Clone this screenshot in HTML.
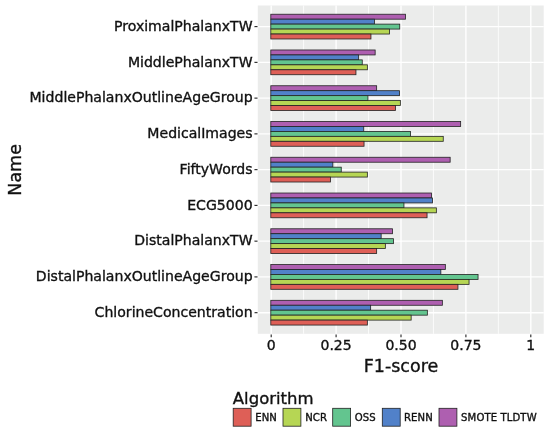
<!DOCTYPE html>
<html><head><meta charset="utf-8"><title>F1-score chart</title>
<style>html,body{margin:0;padding:0;background:#fff}.t{stroke:#111;stroke-width:0.35px}</style></head>
<body>
<svg width="550" height="433" viewBox="0 0 550 433" style="display:block;font-family:'DejaVu Sans','Liberation Sans',sans-serif">
<rect width="550" height="433" fill="#fff"/>
<rect x="257.8" y="5.5" width="285.90000000000003" height="328.30" fill="#ebeceb"/>
<line x1="303.65" x2="303.65" y1="5.5" y2="333.8" stroke="#fdfdfd" stroke-width="0.9"/>
<line x1="368.55" x2="368.55" y1="5.5" y2="333.8" stroke="#fdfdfd" stroke-width="0.9"/>
<line x1="433.45" x2="433.45" y1="5.5" y2="333.8" stroke="#fdfdfd" stroke-width="0.9"/>
<line x1="498.35" x2="498.35" y1="5.5" y2="333.8" stroke="#fdfdfd" stroke-width="0.9"/>
<line x1="271.20" x2="271.20" y1="5.5" y2="333.8" stroke="#fff" stroke-width="1.4"/>
<line x1="336.10" x2="336.10" y1="5.5" y2="333.8" stroke="#fff" stroke-width="1.4"/>
<line x1="401.00" x2="401.00" y1="5.5" y2="333.8" stroke="#fff" stroke-width="1.4"/>
<line x1="465.90" x2="465.90" y1="5.5" y2="333.8" stroke="#fff" stroke-width="1.4"/>
<line x1="530.80" x2="530.80" y1="5.5" y2="333.8" stroke="#fff" stroke-width="1.4"/>
<line x1="257.8" x2="543.7" y1="26.60" y2="26.60" stroke="#fff" stroke-width="1.4"/>
<line x1="257.8" x2="543.7" y1="62.36" y2="62.36" stroke="#fff" stroke-width="1.4"/>
<line x1="257.8" x2="543.7" y1="98.12" y2="98.12" stroke="#fff" stroke-width="1.4"/>
<line x1="257.8" x2="543.7" y1="133.88" y2="133.88" stroke="#fff" stroke-width="1.4"/>
<line x1="257.8" x2="543.7" y1="169.64" y2="169.64" stroke="#fff" stroke-width="1.4"/>
<line x1="257.8" x2="543.7" y1="205.40" y2="205.40" stroke="#fff" stroke-width="1.4"/>
<line x1="257.8" x2="543.7" y1="241.16" y2="241.16" stroke="#fff" stroke-width="1.4"/>
<line x1="257.8" x2="543.7" y1="276.92" y2="276.92" stroke="#fff" stroke-width="1.4"/>
<line x1="257.8" x2="543.7" y1="312.68" y2="312.68" stroke="#fff" stroke-width="1.4"/>
<rect x="270.80" y="14.23" width="134.65" height="4.95" fill="#ae5fb0" stroke="#222" stroke-width="0.8"/>
<rect x="270.80" y="19.18" width="103.75" height="4.95" fill="#5181c9" stroke="#222" stroke-width="0.8"/>
<rect x="270.80" y="24.12" width="128.95" height="4.95" fill="#63c58f" stroke="#222" stroke-width="0.8"/>
<rect x="270.80" y="29.08" width="118.75" height="4.95" fill="#b6d654" stroke="#222" stroke-width="0.8"/>
<rect x="270.80" y="34.03" width="100.15" height="4.95" fill="#de5f57" stroke="#222" stroke-width="0.8"/>
<rect x="270.80" y="49.98" width="104.35" height="4.95" fill="#ae5fb0" stroke="#222" stroke-width="0.8"/>
<rect x="270.80" y="54.94" width="87.85" height="4.95" fill="#5181c9" stroke="#222" stroke-width="0.8"/>
<rect x="270.80" y="59.88" width="91.45" height="4.95" fill="#63c58f" stroke="#222" stroke-width="0.8"/>
<rect x="270.80" y="64.84" width="96.55" height="4.95" fill="#b6d654" stroke="#222" stroke-width="0.8"/>
<rect x="270.80" y="69.78" width="85.15" height="4.95" fill="#de5f57" stroke="#222" stroke-width="0.8"/>
<rect x="270.80" y="85.75" width="105.85" height="4.95" fill="#ae5fb0" stroke="#222" stroke-width="0.8"/>
<rect x="270.80" y="90.70" width="128.65" height="4.95" fill="#5181c9" stroke="#222" stroke-width="0.8"/>
<rect x="270.80" y="95.65" width="97.15" height="4.95" fill="#63c58f" stroke="#222" stroke-width="0.8"/>
<rect x="270.80" y="100.59" width="129.55" height="4.95" fill="#b6d654" stroke="#222" stroke-width="0.8"/>
<rect x="270.80" y="105.55" width="124.75" height="4.95" fill="#de5f57" stroke="#222" stroke-width="0.8"/>
<rect x="270.80" y="121.50" width="189.85" height="4.95" fill="#ae5fb0" stroke="#222" stroke-width="0.8"/>
<rect x="270.80" y="126.45" width="92.95" height="4.95" fill="#5181c9" stroke="#222" stroke-width="0.8"/>
<rect x="270.80" y="131.41" width="139.75" height="4.95" fill="#63c58f" stroke="#222" stroke-width="0.8"/>
<rect x="270.80" y="136.35" width="172.45" height="4.95" fill="#b6d654" stroke="#222" stroke-width="0.8"/>
<rect x="270.80" y="141.31" width="93.25" height="4.95" fill="#de5f57" stroke="#222" stroke-width="0.8"/>
<rect x="270.80" y="157.26" width="179.35" height="4.95" fill="#ae5fb0" stroke="#222" stroke-width="0.8"/>
<rect x="270.80" y="162.21" width="62.05" height="4.95" fill="#5181c9" stroke="#222" stroke-width="0.8"/>
<rect x="270.80" y="167.16" width="70.45" height="4.95" fill="#63c58f" stroke="#222" stroke-width="0.8"/>
<rect x="270.80" y="172.11" width="96.55" height="4.95" fill="#b6d654" stroke="#222" stroke-width="0.8"/>
<rect x="270.80" y="177.06" width="59.65" height="4.95" fill="#de5f57" stroke="#222" stroke-width="0.8"/>
<rect x="270.80" y="193.02" width="160.75" height="4.95" fill="#ae5fb0" stroke="#222" stroke-width="0.8"/>
<rect x="270.80" y="197.97" width="161.65" height="4.95" fill="#5181c9" stroke="#222" stroke-width="0.8"/>
<rect x="270.80" y="202.92" width="133.15" height="4.95" fill="#63c58f" stroke="#222" stroke-width="0.8"/>
<rect x="270.80" y="207.87" width="165.55" height="4.95" fill="#b6d654" stroke="#222" stroke-width="0.8"/>
<rect x="270.80" y="212.82" width="156.25" height="4.95" fill="#de5f57" stroke="#222" stroke-width="0.8"/>
<rect x="270.80" y="228.78" width="121.75" height="4.95" fill="#ae5fb0" stroke="#222" stroke-width="0.8"/>
<rect x="270.80" y="233.73" width="110.35" height="4.95" fill="#5181c9" stroke="#222" stroke-width="0.8"/>
<rect x="270.80" y="238.69" width="122.65" height="4.95" fill="#63c58f" stroke="#222" stroke-width="0.8"/>
<rect x="270.80" y="243.63" width="114.55" height="4.95" fill="#b6d654" stroke="#222" stroke-width="0.8"/>
<rect x="270.80" y="248.59" width="105.85" height="4.95" fill="#de5f57" stroke="#222" stroke-width="0.8"/>
<rect x="270.80" y="264.55" width="174.55" height="4.95" fill="#ae5fb0" stroke="#222" stroke-width="0.8"/>
<rect x="270.80" y="269.50" width="170.05" height="4.95" fill="#5181c9" stroke="#222" stroke-width="0.8"/>
<rect x="270.80" y="274.44" width="207.25" height="4.95" fill="#63c58f" stroke="#222" stroke-width="0.8"/>
<rect x="270.80" y="279.40" width="198.25" height="4.95" fill="#b6d654" stroke="#222" stroke-width="0.8"/>
<rect x="270.80" y="284.35" width="187.15" height="4.95" fill="#de5f57" stroke="#222" stroke-width="0.8"/>
<rect x="270.80" y="300.31" width="171.55" height="4.95" fill="#ae5fb0" stroke="#222" stroke-width="0.8"/>
<rect x="270.80" y="305.25" width="99.85" height="4.95" fill="#5181c9" stroke="#222" stroke-width="0.8"/>
<rect x="270.80" y="310.20" width="156.55" height="4.95" fill="#63c58f" stroke="#222" stroke-width="0.8"/>
<rect x="270.80" y="315.16" width="140.35" height="4.95" fill="#b6d654" stroke="#222" stroke-width="0.8"/>
<rect x="270.80" y="320.11" width="96.55" height="4.95" fill="#de5f57" stroke="#222" stroke-width="0.8"/>
<line x1="254.5" x2="257.5" y1="26.60" y2="26.60" stroke="#222" stroke-width="1.1"/>
<text x="252.60" y="30.90" font-size="14.07" text-anchor="end" fill="#111" class="t">ProximalPhalanxTW</text>
<line x1="254.5" x2="257.5" y1="62.36" y2="62.36" stroke="#222" stroke-width="1.1"/>
<text x="252.60" y="66.66" font-size="14.07" text-anchor="end" fill="#111" class="t">MiddlePhalanxTW</text>
<line x1="254.5" x2="257.5" y1="98.12" y2="98.12" stroke="#222" stroke-width="1.1"/>
<text x="252.60" y="102.42" font-size="14.07" text-anchor="end" fill="#111" class="t">MiddlePhalanxOutlineAgeGroup</text>
<line x1="254.5" x2="257.5" y1="133.88" y2="133.88" stroke="#222" stroke-width="1.1"/>
<text x="252.60" y="138.18" font-size="14.07" text-anchor="end" fill="#111" class="t">MedicalImages</text>
<line x1="254.5" x2="257.5" y1="169.64" y2="169.64" stroke="#222" stroke-width="1.1"/>
<text x="252.60" y="173.94" font-size="14.07" text-anchor="end" fill="#111" class="t">FiftyWords</text>
<line x1="254.5" x2="257.5" y1="205.40" y2="205.40" stroke="#222" stroke-width="1.1"/>
<text x="252.60" y="209.70" font-size="14.07" text-anchor="end" fill="#111" class="t">ECG5000</text>
<line x1="254.5" x2="257.5" y1="241.16" y2="241.16" stroke="#222" stroke-width="1.1"/>
<text x="252.60" y="245.46" font-size="14.07" text-anchor="end" fill="#111" class="t">DistalPhalanxTW</text>
<line x1="254.5" x2="257.5" y1="276.92" y2="276.92" stroke="#222" stroke-width="1.1"/>
<text x="252.60" y="281.22" font-size="14.07" text-anchor="end" fill="#111" class="t">DistalPhalanxOutlineAgeGroup</text>
<line x1="254.5" x2="257.5" y1="312.68" y2="312.68" stroke="#222" stroke-width="1.1"/>
<text x="252.60" y="316.98" font-size="14.07" text-anchor="end" fill="#111" class="t">ChlorineConcentration</text>
<line x1="271.20" x2="271.20" y1="334.40000000000003" y2="337.3" stroke="#222" stroke-width="1.1"/>
<text x="271.20" y="350.00" font-size="14" text-anchor="middle" fill="#111" class="t">0</text>
<line x1="336.10" x2="336.10" y1="334.40000000000003" y2="337.3" stroke="#222" stroke-width="1.1"/>
<text x="336.10" y="350.00" font-size="14" text-anchor="middle" fill="#111" class="t">0.25</text>
<line x1="401.00" x2="401.00" y1="334.40000000000003" y2="337.3" stroke="#222" stroke-width="1.1"/>
<text x="401.00" y="350.00" font-size="14" text-anchor="middle" fill="#111" class="t">0.50</text>
<line x1="465.90" x2="465.90" y1="334.40000000000003" y2="337.3" stroke="#222" stroke-width="1.1"/>
<text x="465.90" y="350.00" font-size="14" text-anchor="middle" fill="#111" class="t">0.75</text>
<line x1="530.80" x2="530.80" y1="334.40000000000003" y2="337.3" stroke="#222" stroke-width="1.1"/>
<text x="530.80" y="350.00" font-size="14" text-anchor="middle" fill="#111" class="t">1</text>
<text x="401" y="371.6" font-size="17.5" text-anchor="middle" fill="#111" class="t">F1-score</text>
<text transform="translate(20.9,169.9) rotate(-90)" font-size="17.5" text-anchor="middle" fill="#111" class="t">Name</text>
<text x="232.8" y="403.6" font-size="16.5" fill="#111" class="t">Algorithm</text>
<rect x="233.2" y="408.3" width="17.9" height="17.9" fill="#de5f57" stroke="#222" stroke-width="0.8"/>
<text x="255.2" y="420.5" font-size="10.1" letter-spacing="0.1" fill="#111" class="t">ENN</text>
<rect x="283" y="408.3" width="17.9" height="17.9" fill="#b6d654" stroke="#222" stroke-width="0.8"/>
<text x="305.2" y="420.5" font-size="10.1" letter-spacing="0.1" fill="#111" class="t">NCR</text>
<rect x="332.7" y="408.3" width="17.9" height="17.9" fill="#63c58f" stroke="#222" stroke-width="0.8"/>
<text x="354.7" y="420.5" font-size="10.1" letter-spacing="0.1" fill="#111" class="t">OSS</text>
<rect x="382.3" y="408.3" width="17.9" height="17.9" fill="#5181c9" stroke="#222" stroke-width="0.8"/>
<text x="404.0" y="420.5" font-size="10.1" letter-spacing="0.1" fill="#111" class="t">RENN</text>
<rect x="439" y="408.3" width="17.9" height="17.9" fill="#ae5fb0" stroke="#222" stroke-width="0.8"/>
<text x="461.09999999999997" y="420.5" font-size="10.1" letter-spacing="0.1" fill="#111" class="t">SMOTE TLDTW</text>
</svg>
</body></html>
